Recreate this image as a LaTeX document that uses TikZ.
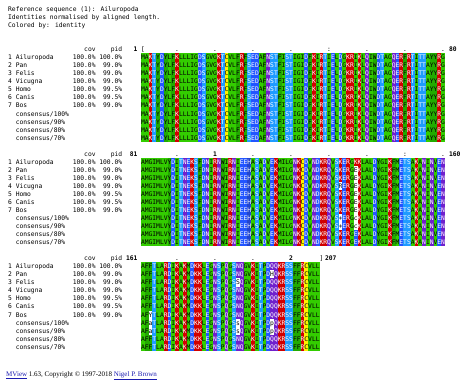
\documentclass[tikz,border=0pt]{standalone}
\usepackage{fontspec}
\setmainfont{Liberation Serif}
\newfontfamily\mvmono{DejaVu Sans Mono}
\newcommand\mvf{\mvmono\fontsize{6.31pt}{8pt}\selectfont}
\definecolor{cgreen}{HTML}{33CC00}
\definecolor{cdgreen}{HTML}{22AA00}
\definecolor{cred}{HTML}{D10000}
\definecolor{cblue}{HTML}{2255FF}
\definecolor{chis}{HTML}{2244CC}
\definecolor{clblue}{HTML}{1E9BFF}
\definecolor{cpurple}{HTML}{7020CC}
\definecolor{cyellow}{HTML}{FFF200}
\definecolor{clink}{HTML}{1A1AB0}
\makeatletter
\def\mvset#1#2#3{\@namedef{mvbg@#1}{#2}\@namedef{mvfg@#1}{#3}}
\mvset{A}{cgreen}{black}\mvset{V}{cgreen}{black}\mvset{I}{cgreen}{black}
\mvset{L}{cgreen}{black}\mvset{M}{cgreen}{black}\mvset{G}{cgreen}{black}
\mvset{P}{cgreen}{black}
\mvset{F}{cdgreen}{black}\mvset{W}{cdgreen}{black}\mvset{Y}{cdgreen}{black}
\mvset{H}{chis}{white}\mvset{C}{cyellow}{black}
\mvset{S}{clblue}{white}\mvset{T}{clblue}{white}
\mvset{D}{cblue}{white}\mvset{E}{cblue}{white}
\mvset{K}{cred}{white}\mvset{R}{cred}{white}
\mvset{N}{cpurple}{white}\mvset{Q}{cpurple}{white}
\mvset{+}{white}{black}\mvset{a}{white}{black}\mvset{c}{white}{black}
\mvset{p}{white}{black}\mvset{s}{white}{black}
\newcount\mvcol
\newif\ifmvwhite
\newcommand\mvcell[2]{%
  \ifmvwhite
    \def\mvbg{white}\def\mvfg{black}%
  \else
    \edef\mvbg{\csname mvbg@\mvch\endcsname}%
    \edef\mvfg{\csname mvfg@\mvch\endcsname}%
  \fi
  \fill[fill=\mvbg] ({8+3.8*(#1)-0.05},{9.2+8.04*(#2)-4.07}) rectangle ++(3.9,8.14);
  \node[res,text=\mvfg] at ({8+3.8*(#1)+1.9},{9.2+8.04*(#2)+2.3}) {\mvch};
}
\newcommand\mvrow[3]{%
  \global\mvcol=#2\relax
  \global\mvwhitefalse
  \@tfor\mvch:=#3\do{%
    \if!\mvch
      \global\mvwhitetrue
    \else
      \edef\mvk{\the\mvcol}%
      \mvcell{\mvk}{#1}%
      \global\advance\mvcol by 1\relax
      \global\mvwhitefalse
    \fi}}
\makeatother
\newcommand\mvtxt[4][]{\node[lbl,#1] at ({8+3.8*(#2)},{9.2+8.04*(#3)+2.3}) {#4};}
\newcommand\mvmark[4][]{\node[res,#1] at ({8+3.8*(#2)+1.9},{9.2+8.04*(#3)+2.3}) {#4};}
\begin{document}
\begin{tikzpicture}[x=1pt,y=-1pt,
  res/.style={font=\mvf,inner sep=0pt,anchor=base},
  lbl/.style={font=\mvf,inner sep=0pt,anchor=base west},
  bold/.style={font=\mvf\bfseries}]
\fill[white] (0,0) rectangle (474,381);
\useasboundingbox (0,0) rectangle (474,381);
% header
\mvtxt{0}{0}{Reference sequence (1): Ailuropoda}
\mvtxt{0}{1}{Identities normalised by aligned length.}
\mvtxt{0}{2}{Colored by: identity}
% labels for each block
\foreach \b in {5,18,31}{
  \mvtxt{20}{\b}{cov}
  \mvtxt{27}{\b}{pid}
  \foreach \nm [count=\i] in {1 Ailuropoda,2 Pan,3 Felis,4 Vicugna,5 Homo,6 Canis,7 Bos}{
    \mvtxt{0}{\b+\i}{\nm}
    \mvtxt{17}{\b+\i}{100.0\%}
  }
  \mvtxt{24}{\b+1}{100.0\%}
  \mvtxt{25}{\b+2}{99.0\%}
  \mvtxt{25}{\b+3}{99.0\%}
  \mvtxt{25}{\b+4}{99.0\%}
  \mvtxt{25}{\b+5}{99.5\%}
  \mvtxt{25}{\b+6}{99.5\%}
  \mvtxt{25}{\b+7}{99.0\%}
  \mvtxt{2}{\b+8}{consensus/100\%}
  \mvtxt{2}{\b+9}{consensus/90\%}
  \mvtxt{2}{\b+10}{consensus/80\%}
  \mvtxt{2}{\b+11}{consensus/70\%}
}
% rulers
\mvtxt[bold]{33}{5}{1}
\mvmark{35}{5}{[}
\foreach \k in {44,54,64,74,94,104,114}{\mvmark{\k}{5}{.}}
\mvmark{84}{5}{:}
\mvtxt[bold]{116}{5}{80}
\mvtxt[bold]{32}{18}{81}
\foreach \k in {44,64,74,84,94,114}{\mvmark{\k}{18}{.}}
\mvmark[bold]{54}{18}{1}
\mvmark{104}{18}{:}
\mvtxt[bold]{116}{18}{160}
\mvtxt[bold]{31}{31}{161}
\foreach \k in {44,54,64}{\mvmark{\k}{31}{.}}
\mvmark[bold]{74}{31}{2}
\mvmark{82}{31}{]}
\mvtxt[bold]{83.4}{31}{207}
% block 1
\foreach \n in {6,...,16}{\mvrow{\n}{35}{MAKTYDYLFKLLLIGDSGVGKTCVLFRFSEDAFNSTFISTIGIDFKIRTIELDGKRIKLQIWDTAGQERFRTITTAYYRG}}
% block 2
\mvrow{19}{35}{AMGIMLVYDITNEKSFDNIRNWIRNIEEHASADVEKMILGNKCDVNDKRQVSKERGKKLALDYGIKFMETSAKANINVEN}
\foreach \n in {20,21,23,24,25}{\mvrow{\n}{35}{AMGIMLVYDITNEKSFDNIRNWIRNIEEHASADVEKMILGNKCDVNDKRQVSKERG!EKLALDYGIKFMETSAKANINVEN}}
\mvrow{22}{35}{AMGIMLVYDITNEKSFDNIRNWIRNIEEHASADVEKMILGNKCDVNDKRQVS!RERG!EKLALDYGIKFMETSAKANINVEN}
\foreach \n in {26,27}{\mvrow{\n}{35}{AMGIMLVYDITNEKSFDNIRNWIRNIEEHASADVEKMILGNKCDVNDKRQVS+ERGcKLALDYGIKFMETSAKANINVEN}}
\foreach \n in {28,29}{\mvrow{\n}{35}{AMGIMLVYDITNEKSFDNIRNWIRNIEEHASADVEKMILGNKCDVNDKRQVSKERGEKLALDYGIKFMETSAKANINVEN}}
% block 3
\foreach \n in {32,35,36,37,41,42}{\mvrow{\n}{35}{AFFTLARDIKAKMDKKLEGNSPQGSNQGVKITPDQQKRSSFFRCVLL}}
\mvrow{33}{35}{AFFTLARDIKAKMDKKLEGNSPQGSNQGVKITPD!HQKRSSFFRCVLL}
\mvrow{34}{35}{AFFTLARDIKAKMDKKLEGNSPQGS!SQGVKITPDQQKRSSFFRCVLL}
\mvrow{38}{35}{AF!YTLARDIKAKMDKKLEGNSPQGSNQGVKITPDQQKRSSFFRCVLL}
\foreach \n in {39,40}{\mvrow{\n}{35}{AFaTLARDIKAKMDKKLEGNSPQGSsQGVKITPDpQKRSSFFRCVLL}}
% footer
\node[inner sep=0pt,anchor=base west,font=\fontsize{7pt}{8pt}\selectfont] (foot) at (6,376.5)
  {\textcolor{clink}{\underline{MView}} 1.63, Copyright \textcopyright{} 1997-2018 \textcolor{clink}{\underline{Nigel P. Brown}}};
\end{tikzpicture}
\end{document}
